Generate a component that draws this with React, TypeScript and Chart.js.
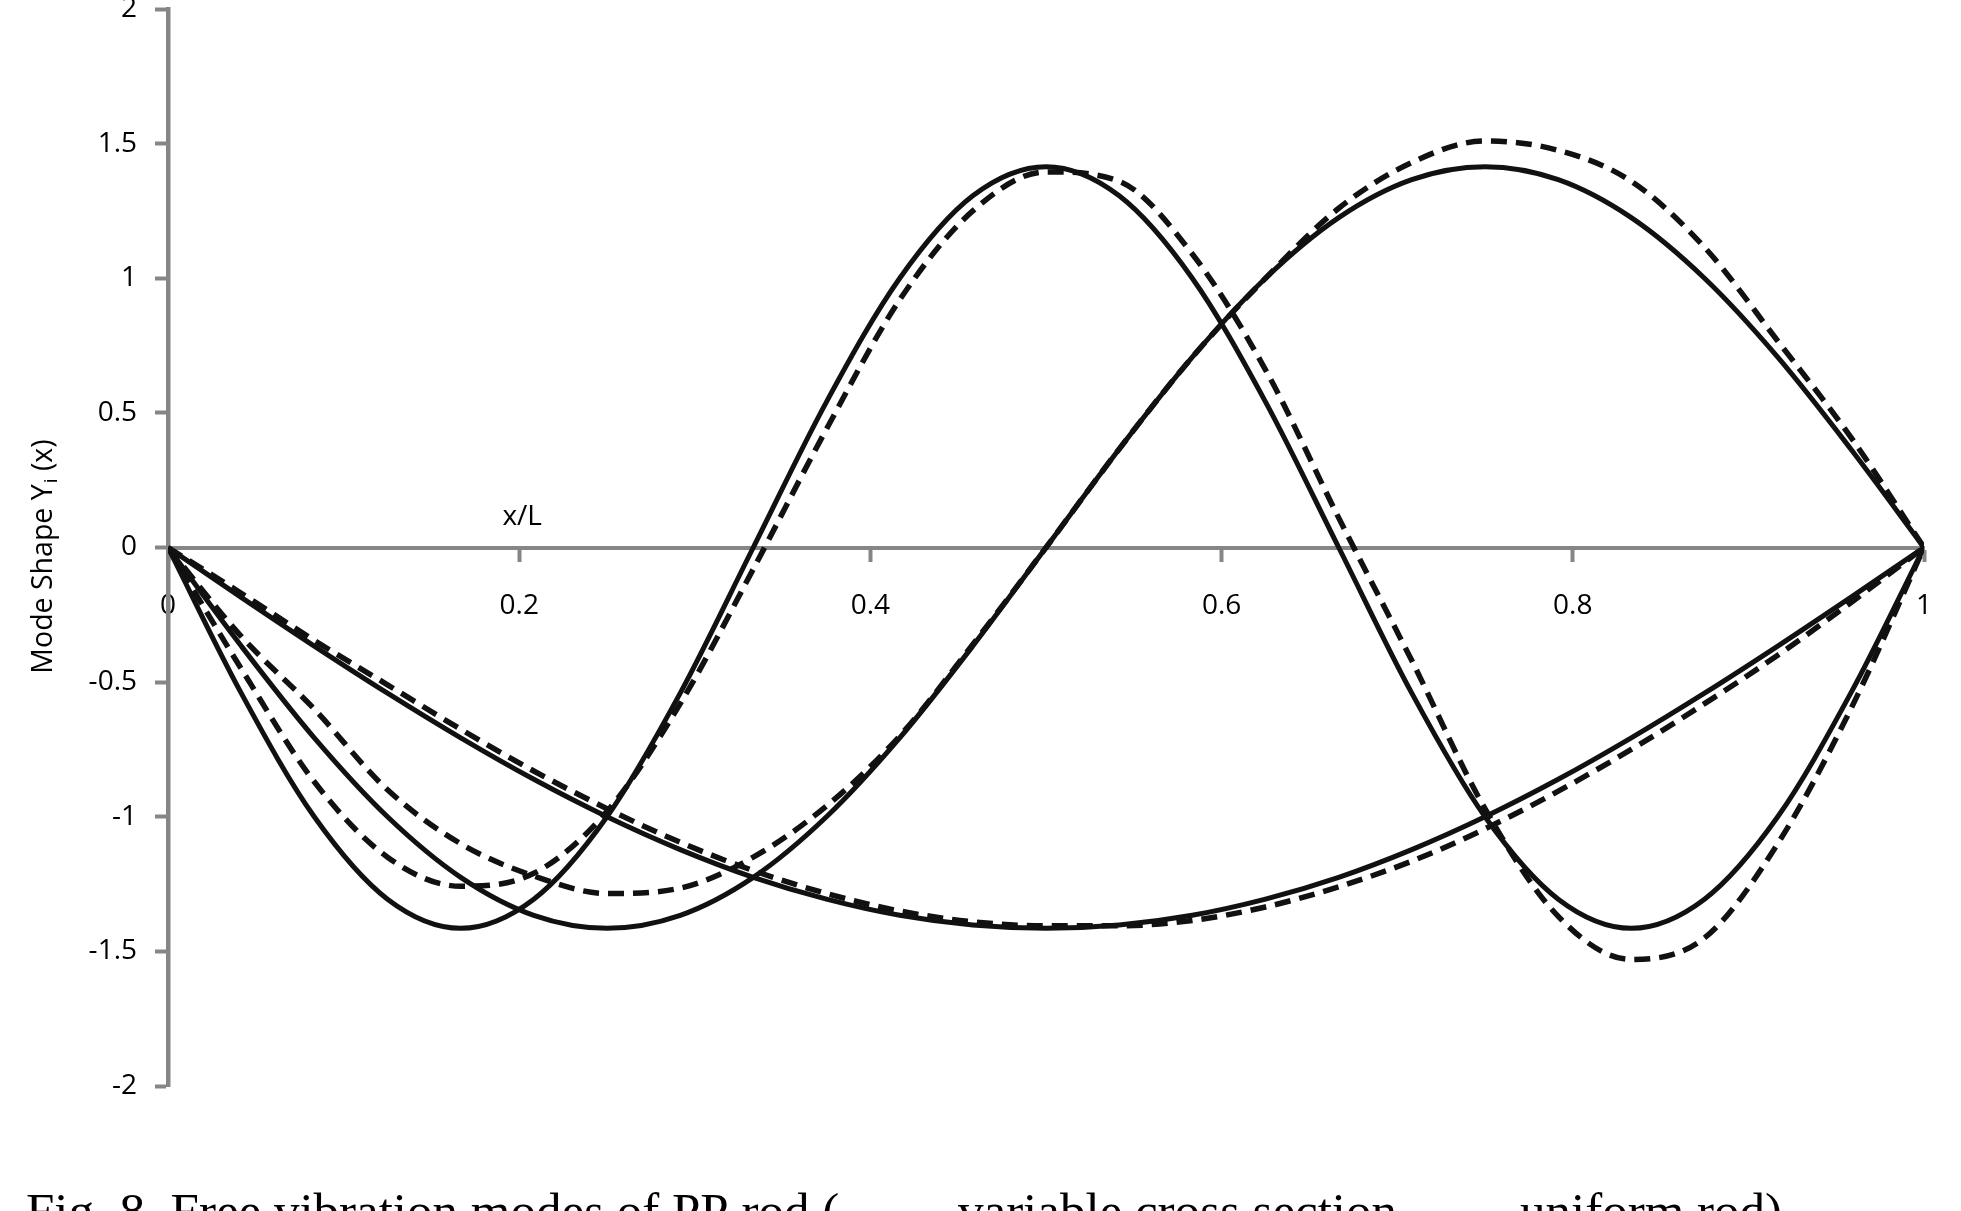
import React, { useEffect, useRef } from 'react';
import { Chart, registerables } from 'chart.js';

Chart.register(...registerables);

// x/L sample positions (k/24)
const xPositions = [
  0, 0.0417, 0.0833, 0.125, 0.1667, 0.2083, 0.25, 0.2917, 0.3333, 0.375, 0.4167, 0.4583, 0.5,
  0.5417, 0.5833, 0.625, 0.6667, 0.7083, 0.75, 0.7917, 0.8333, 0.875, 0.9167, 0.9583, 1,
];

// Mode 1
const mode1Solid = [
  0, -0.185, -0.366, -0.541, -0.707, -0.861, -1.0, -1.122, -1.225, -1.306, -1.366, -1.402, -1.414,
  -1.402, -1.366, -1.306, -1.225, -1.122, -1.0, -0.861, -0.707, -0.541, -0.366, -0.185, 0,
];
const mode1Dashed = [
  0, -0.17, -0.345, -0.51, -0.675, -0.83, -0.97, -1.095, -1.2, -1.285, -1.35, -1.39, -1.405,
  -1.405, -1.385, -1.335, -1.26, -1.165, -1.045, -0.905, -0.75, -0.58, -0.4, -0.205, 0,
];

// Mode 2
const mode2Solid = [
  0, -0.366, -0.707, -1.0, -1.225, -1.366, -1.414, -1.366, -1.225, -1.0, -0.707, -0.366, 0,
  0.366, 0.707, 1.0, 1.225, 1.366, 1.414, 1.366, 1.225, 1.0, 0.707, 0.366, 0,
];
const mode2Dashed = [
  0, -0.33, -0.6, -0.9, -1.1, -1.22, -1.285, -1.265, -1.15, -0.96, -0.7, -0.36, 0,
  0.366, 0.707, 1.0, 1.26, 1.43, 1.51, 1.475, 1.36, 1.115, 0.767, 0.41, 0,
];

// Mode 3
const mode3Solid = [
  0, -0.541, -1.0, -1.306, -1.414, -1.306, -1.0, -0.541, 0, 0.541, 1.0, 1.306, 1.414,
  1.306, 1.0, 0.541, 0, -0.541, -1.0, -1.306, -1.414, -1.306, -1.0, -0.541, 0,
];
const mode3Dashed = [
  0, -0.45, -0.87, -1.15, -1.258, -1.21, -0.98, -0.58, -0.08, 0.44, 0.92, 1.25, 1.395,
  1.36, 1.09, 0.66, 0.11, -0.42, -0.97, -1.37, -1.53, -1.45, -1.1, -0.6, 0,
];

const xTickLabels = ['0', '0.2', '0.4', '0.6', '0.8', '1'];
const yTickLabels = ['-2', '-1.5', '-1', '-0.5', '0', '0.5', '1', '1.5', '2'];

const yTitleMain = 'Mode Shape Y';
const yTitleSub = 'i';
const yTitleEnd = ' (x)';
const xTitle = 'x/L';
const captionParts = ['Fig. 8. Free vibration modes of PP rod (', 'variable cross section,', 'uniform rod)'];

const AXIS_GREY = '#868686';
const LINE_BLACK = '#111111';
const SANS = '"Open Sans", "Noto Sans", sans-serif';

function toPoints(values: number[]) {
  return xPositions.map((x, i) => ({ x, y: values[i] }));
}

const annotations = {
  id: 'annotations',
  afterDraw(chart: any) {
    const ctx = chart.ctx as CanvasRenderingContext2D;
    const xs = chart.scales.x;
    const ys = chart.scales.y;
    ctx.save();
    ctx.fillStyle = '#000';

    // y-axis title with subscript
    ctx.save();
    ctx.translate(52, 557);
    ctx.rotate(-Math.PI / 2);
    ctx.textAlign = 'left';
    ctx.textBaseline = 'alphabetic';
    const big = `28.5px ${SANS}`;
    const small = `19px ${SANS}`;
    ctx.font = big;
    const w1 = ctx.measureText(yTitleMain).width;
    const w3 = ctx.measureText(yTitleEnd).width;
    ctx.font = small;
    const w2 = ctx.measureText(yTitleSub).width;
    const x0 = -(w1 + w2 + w3) / 2;
    ctx.font = big;
    ctx.fillText(yTitleMain, x0, 0);
    ctx.font = small;
    ctx.fillText(yTitleSub, x0 + w1 + 1, 5);
    ctx.font = big;
    ctx.fillText(yTitleEnd, x0 + w1 + w2 + 1, 0);
    ctx.restore();

    // x title above the axis near 0.2
    ctx.font = `28px ${SANS}`;
    ctx.textAlign = 'center';
    ctx.textBaseline = 'alphabetic';
    ctx.fillText(xTitle, xs.getPixelForValue(0.2) + 3, ys.getPixelForValue(0) - 23);

    // caption (cut by the bottom edge)
    ctx.font = `51px "Liberation Serif", "Times New Roman", serif`;
    ctx.textAlign = 'left';
    const base = 1228;
    ctx.fillText(captionParts[0], 26, base);
    ctx.fillText(captionParts[1], 958, base);
    ctx.fillText(captionParts[2], 1520, base);
    ctx.strokeStyle = '#000';
    ctx.lineWidth = 3;
    ctx.beginPath();
    ctx.moveTo(845, base - 13);
    ctx.lineTo(935, base - 13);
    ctx.stroke();
    ctx.setLineDash([10, 6]);
    ctx.beginPath();
    ctx.moveTo(1425, base - 13);
    ctx.lineTo(1505, base - 13);
    ctx.stroke();
    ctx.restore();
  },
};

export default function App() {
  const canvasRef = useRef<HTMLCanvasElement | null>(null);

  useEffect(() => {
    const canvas = canvasRef.current;
    if (!canvas) return;
    const solid = (label: string, values: number[]) => ({
      label,
      data: toPoints(values),
      borderColor: LINE_BLACK,
      borderWidth: 5,
      pointRadius: 0,
      fill: false,
      cubicInterpolationMode: 'monotone' as const,
      borderJoinStyle: 'round' as const,
    });
    const dashed = (label: string, values: number[]) => ({
      ...solid(label, values),
      borderWidth: 5.5,
      borderDash: [16, 9],
    });
    const chart = new Chart(canvas, {
      type: 'line',
      data: {
        datasets: [
          solid('Mode 1 (variable cross section)', mode1Solid),
          dashed('Mode 1 (uniform rod)', mode1Dashed),
          solid('Mode 2 (variable cross section)', mode2Solid),
          dashed('Mode 2 (uniform rod)', mode2Dashed),
          solid('Mode 3 (variable cross section)', mode3Solid),
          dashed('Mode 3 (uniform rod)', mode3Dashed),
        ],
      },
      options: {
        animation: false,
        responsive: false,
        devicePixelRatio: 1,
        layout: { padding: { left: 0, top: 9, right: 37, bottom: 125 } },
        plugins: { legend: { display: false }, tooltip: { enabled: false }, title: { display: false } },
        scales: {
          x: {
            type: 'linear',
            min: 0,
            max: 1,
            position: { y: 0 } as any,
            ticks: {
              stepSize: 0.2,
              autoSkip: false,
              maxRotation: 0,
              padding: 30,
              color: '#000',
              font: { family: SANS, size: 28 },
              callback: (_v: any, i: number) => xTickLabels[i],
            },
            grid: {
              drawOnChartArea: false,
              drawTicks: true,
              tickLength: 12,
              tickWidth: 4,
              tickColor: AXIS_GREY,
              color: AXIS_GREY,
            },
            border: { display: true, color: AXIS_GREY, width: 4 },
            afterFit: (s: any) => {
              s.height = 0;
              s.paddingLeft = 0;
              s.paddingRight = 0;
            },
          },
          y: {
            type: 'linear',
            min: -2,
            max: 2,
            position: 'left',
            ticks: {
              stepSize: 0.5,
              padding: 18,
              color: '#000',
              font: { family: SANS, size: 28 },
              callback: (_v: any, i: number) => yTickLabels[i],
            },
            grid: {
              drawOnChartArea: false,
              drawTicks: true,
              tickLength: 13,
              tickWidth: 4,
              tickColor: AXIS_GREY,
              color: AXIS_GREY,
            },
            border: { display: true, color: AXIS_GREY, width: 4.5 },
            afterFit: (s: any) => {
              s.width = 168;
              s.paddingTop = 0;
              s.paddingBottom = 0;
            },
          },
        },
      },
      plugins: [annotations],
    });
    return () => chart.destroy();
  }, []);

  return (
    <div style={{ position: 'fixed', left: 0, top: 0, width: 1961, height: 1211, background: '#fff', overflow: 'hidden' }}>
      <canvas ref={canvasRef} width={1961} height={1211} style={{ width: 1961, height: 1211, display: 'block' }} />
    </div>
  );
}
